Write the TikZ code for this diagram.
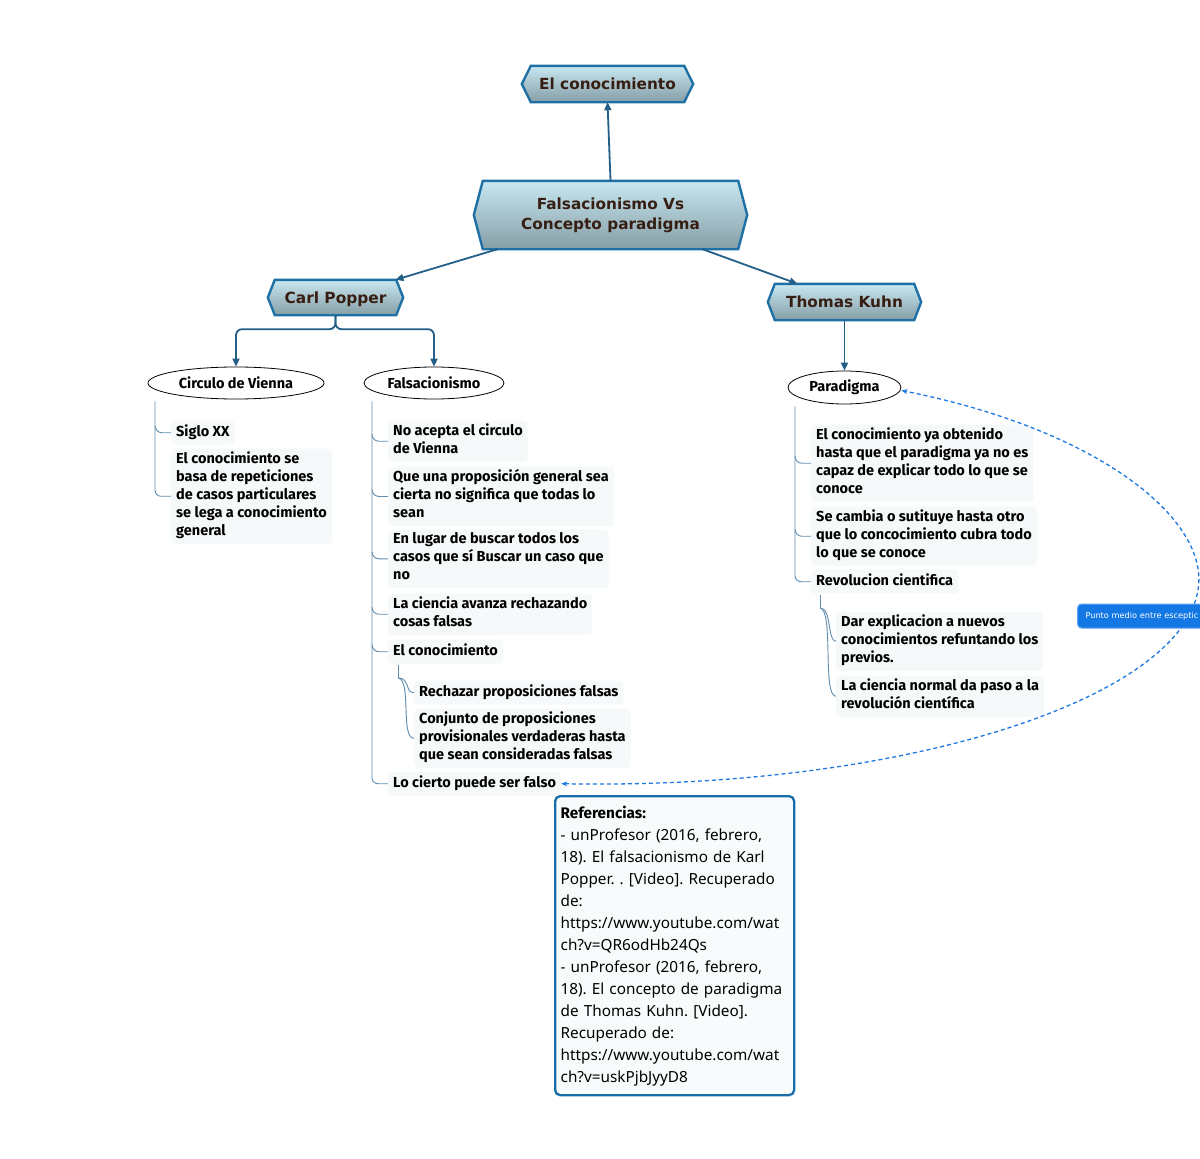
\documentclass[tikz,border=0pt]{standalone}
\usepackage{fontspec}
\setmainfont{Noto Sans}
\newfontfamily\headfont{DejaVu Sans}
\newfontfamily\bodyfont{Fira Sans}
\newfontfamily\reffont{Noto Sans}
\usetikzlibrary{shapes.geometric,arrows.meta,calc}
\pgfdeclarelayer{bg}
\pgfsetlayers{bg,main}
\definecolor{hexborder}{RGB}{30,112,165}
\definecolor{hextop}{RGB}{200,231,241}
\definecolor{hexbot}{RGB}{133,158,166}
\definecolor{headtxt}{RGB}{55,30,18}
\definecolor{conn}{RGB}{35,95,135}
\definecolor{treecol}{RGB}{95,140,175}
\definecolor{boxbg}{RGB}{246,249,250}
\definecolor{dashblue}{RGB}{30,120,225}
\definecolor{labelblue}{RGB}{20,120,228}
\definecolor{labeledge}{RGB}{95,165,240}
\definecolor{refborder}{RGB}{25,110,170}
\definecolor{refbg}{RGB}{248,251,252}
\begin{document}
\frenchspacing
\begin{tikzpicture}[x=1pt,y=-1pt,
  hexbox/.style={inner sep=0pt, text=headtxt, align=center},
  hexshape/.style={draw=hexborder, line width=2.4pt, top color=hextop, bottom color=hexbot},
  conn/.style={draw=conn, line width=1.8pt, -{Triangle[length=8pt,width=7pt]}},
  oval/.style={ellipse, draw=black, line width=0.8pt, fill=white, inner sep=0pt,
    font=\bodyfont\bfseries\fontsize{14.5}{16}\selectfont},
  txt/.style={font=\bodyfont\bfseries\fontsize{14.5}{18}\selectfont, align=left,
    inner xsep=5pt, inner ysep=3pt, fill=boxbg, rounded corners=4pt,
    anchor=north west, execute at begin node=\strut, text=black},
  treeline/.style={draw=treecol, line width=0.9pt},
  dashconn/.style={draw=dashblue, line width=1.3pt, dash pattern=on 4pt off 3pt,
    {Stealth[length=6pt,width=5pt]}-{Stealth[length=6pt,width=5pt]}},
  punto/.style={fill=labelblue, draw=labeledge, line width=1pt, rounded corners=4pt,
    text=white, font=\headfont\fontsize{8.2}{10}\selectfont, minimum height=24pt,
    text width=140pt, inner xsep=8pt, align=left, anchor=west},
  refbox/.style={draw=refborder, line width=2.3pt, fill=refbg, rounded corners=5pt,
    anchor=north west, text width=228pt, minimum height=299pt, align=left,
    inner xsep=5.5pt, inner ysep=0pt, font=\reffont\fontsize{15.3}{22}\selectfont, text=black}
]
\useasboundingbox (0,0) rectangle (1200,1159);
\begin{pgfonlayer}{bg}
\fill[white] (0,0) rectangle (1200,1159);
\end{pgfonlayer}
\clip (0,0) rectangle (1200,1159);

% hexagon nodes
\node[hexbox, minimum width=171pt, minimum height=36pt,
  font=\headfont\bfseries\fontsize{15.3}{18}\selectfont] (know) at (607.5,84) {El conocimiento};
\node[hexbox, minimum width=273pt, minimum height=68pt,
  font=\headfont\bfseries\fontsize{15.3}{20}\selectfont] (main) at (610.5,215) {Falsacionismo Vs\\Concepto paradigma};
\node[hexbox, minimum width=135pt, minimum height=35pt, text depth=0pt,
  font=\headfont\bfseries\fontsize{15.4}{18}\selectfont] (carl) at (335.5,297.5) {Carl Popper};
\node[hexbox, minimum width=153pt, minimum height=36pt,
  font=\headfont\bfseries\fontsize{15.3}{18}\selectfont] (kuhn) at (844.5,302) {Thomas Kuhn};

\begin{pgfonlayer}{bg}
\path[hexshape] (know.west) -- ([xshift=9pt]know.north west) -- ([xshift=-9pt]know.north east)
  -- (know.east) -- ([xshift=-9pt]know.south east) -- ([xshift=9pt]know.south west) -- cycle;
\path[hexshape] (main.west) -- ([xshift=9pt]main.north west) -- ([xshift=-9pt]main.north east)
  -- (main.east) -- ([xshift=-9pt]main.south east) -- ([xshift=9pt]main.south west) -- cycle;
\path[hexshape] (carl.west) -- ([xshift=7pt]carl.north west) -- ([xshift=-7pt]carl.north east)
  -- (carl.east) -- ([xshift=-7pt]carl.south east) -- ([xshift=7pt]carl.south west) -- cycle;
\path[hexshape] (kuhn.west) -- ([xshift=7pt]kuhn.north west) -- ([xshift=-7pt]kuhn.north east)
  -- (kuhn.east) -- ([xshift=-7pt]kuhn.south east) -- ([xshift=7pt]kuhn.south west) -- cycle;
\end{pgfonlayer}

% ellipses
\node[oval, minimum width=176pt, minimum height=32pt] (vienna) at (236,383) {Circulo de Vienna};
\node[oval, minimum width=140pt, minimum height=32pt] (fals) at (434,383) {Falsacionismo};
\node[oval, minimum width=113pt, minimum height=33pt] (para) at (844.5,387.5) {Paradigma};

% main connectors
\draw[conn] (main.north) -- (know.south);
\draw[conn] ([xshift=-113pt]main.south) -- ([xshift=60pt]carl.north);
\draw[conn] ([xshift=92pt]main.south) -- ([xshift=-47pt]kuhn.north);
\draw[conn] (kuhn.south) -- (para.north);
\draw[conn, rounded corners=6pt] (carl.south) -- ++(0,14) -| (vienna.north);
\draw[conn, rounded corners=6pt] (carl.south) -- ++(0,14) -| (fals.north);

% Circulo de Vienna texts
\node[txt] (v1) at (171,420.5) {Siglo XX};
\node[txt] (v2) at (171,448.5) {El conocimiento se\\basa de repeticiones\\de casos particulares\\se lega a conocimiento\\general};

% Falsacionismo texts
\node[txt] (f1) at (388,420.5) {No acepta el circulo\\de Vienna};
\node[txt] (f2) at (388,466.5) {Que una proposición general sea\\cierta no significa que todas lo\\sean};
\node[txt] (f3) at (388,529.5) {En lugar de buscar todos los\\casos que sí Buscar un caso que\\no};
\node[txt] (f4) at (388,593.5) {La ciencia avanza rechazando\\cosas falsas};
\node[txt] (f5) at (388,639.5) {El conocimiento};
\node[txt] (f6) at (414,680.5) {Rechazar proposiciones falsas};
\node[txt] (f7) at (414,708.5) {Conjunto de proposiciones\\provisionales verdaderas hasta\\que sean consideradas falsas};
\node[txt] (f8) at (388,771.5) {Lo cierto puede ser falso};

% Paradigma texts
\node[txt] (p1) at (811,424.5) {El conocimiento ya obtenido\\hasta que el paradigma ya no es\\capaz de explicar todo lo que se\\conoce};
\node[txt] (p2) at (811,506.5) {Se cambia o sutituye hasta otro\\que lo concocimiento cubra todo\\lo que se conoce};
\node[txt] (p3) at (811,569.5) {Revolucion cientifica};
\node[txt] (p4) at (836,611.5) {Dar explicacion a nuevos\\conocimientos refuntando los\\previos.};
\node[txt] (p5) at (836,675.5) {La ciencia normal da paso a la\\revolución científica};

% tree lines: Vienna
\coordinate (vt) at ([xshift=-81pt,yshift=-2pt]vienna.south);
\draw[treeline, rounded corners=6pt] (vt) |- (v2.west);
\draw[treeline] ($(vt |- v1.west)+(0,-7)$) to[out=-90,in=180] ($(vt |- v1.west)+(7,0)$) -- (v1.west);

% tree lines: Falsacionismo
\coordinate (ft) at ([xshift=-62pt,yshift=-2pt]fals.south);
\draw[treeline, rounded corners=6pt] (ft) |- (f8.west);
\foreach \n in {f1,f2,f3,f4,f5}{
  \draw[treeline] ($(ft |- \n.west)+(0,-7)$) to[out=-90,in=180] ($(ft |- \n.west)+(7,0)$) -- (\n.west);
}
\coordinate (s1) at ([xshift=10pt,yshift=-1pt]f5.south west);
\draw[treeline] (s1) -- ++(0,13) coordinate (s1b);
\draw[treeline] (s1b) .. controls +(12,0) and +(-9,0) .. (f6.west);
\draw[treeline] (s1b) .. controls +(14,2) and +(-14,0) .. (f7.west);

% tree lines: Paradigma
\coordinate (pt) at ([xshift=-49.5pt,yshift=-2pt]para.south);
\draw[treeline, rounded corners=6pt] (pt) |- (p3.west);
\foreach \n in {p1,p2}{
  \draw[treeline] ($(pt |- \n.west)+(0,-7)$) to[out=-90,in=180] ($(pt |- \n.west)+(7,0)$) -- (\n.west);
}
\coordinate (s2) at ([xshift=9pt,yshift=-1pt]p3.south west);
\draw[treeline] (s2) -- ++(0,13) coordinate (s2b);
\draw[treeline] (s2b) .. controls +(12,0) and +(-9,0) .. (p4.west);
\draw[treeline] (s2b) .. controls +(14,2) and +(-14,0) .. (p5.west);

% dashed relation
\draw[dashconn] (f8.east) .. controls (900,790) and (1180,700) .. (1198,590)
  .. controls (1210,520) and (1100,430) .. ([yshift=-3pt]para.east);
\node[punto] (punto) at (1077,616) {Punto medio entre esceptic};

% references
\node[refbox] (refs) at (554,795) {{\bodyfont\bfseries Referencias:}\\
- unProfesor (2016, febrero,\\
18). El falsacionismo de Karl\\
Popper. . [Video]. Recuperado\\
de:\\
https://www.youtube.com/wat\\
ch?v=QR6odHb24Qs\\
- unProfesor (2016, febrero,\\
18). El concepto de paradigma\\
de Thomas Kuhn. [Video].\\
Recuperado de:\\
https://www.youtube.com/wat\\
ch?v=uskPjbJyyD8};
\end{tikzpicture}
\end{document}
